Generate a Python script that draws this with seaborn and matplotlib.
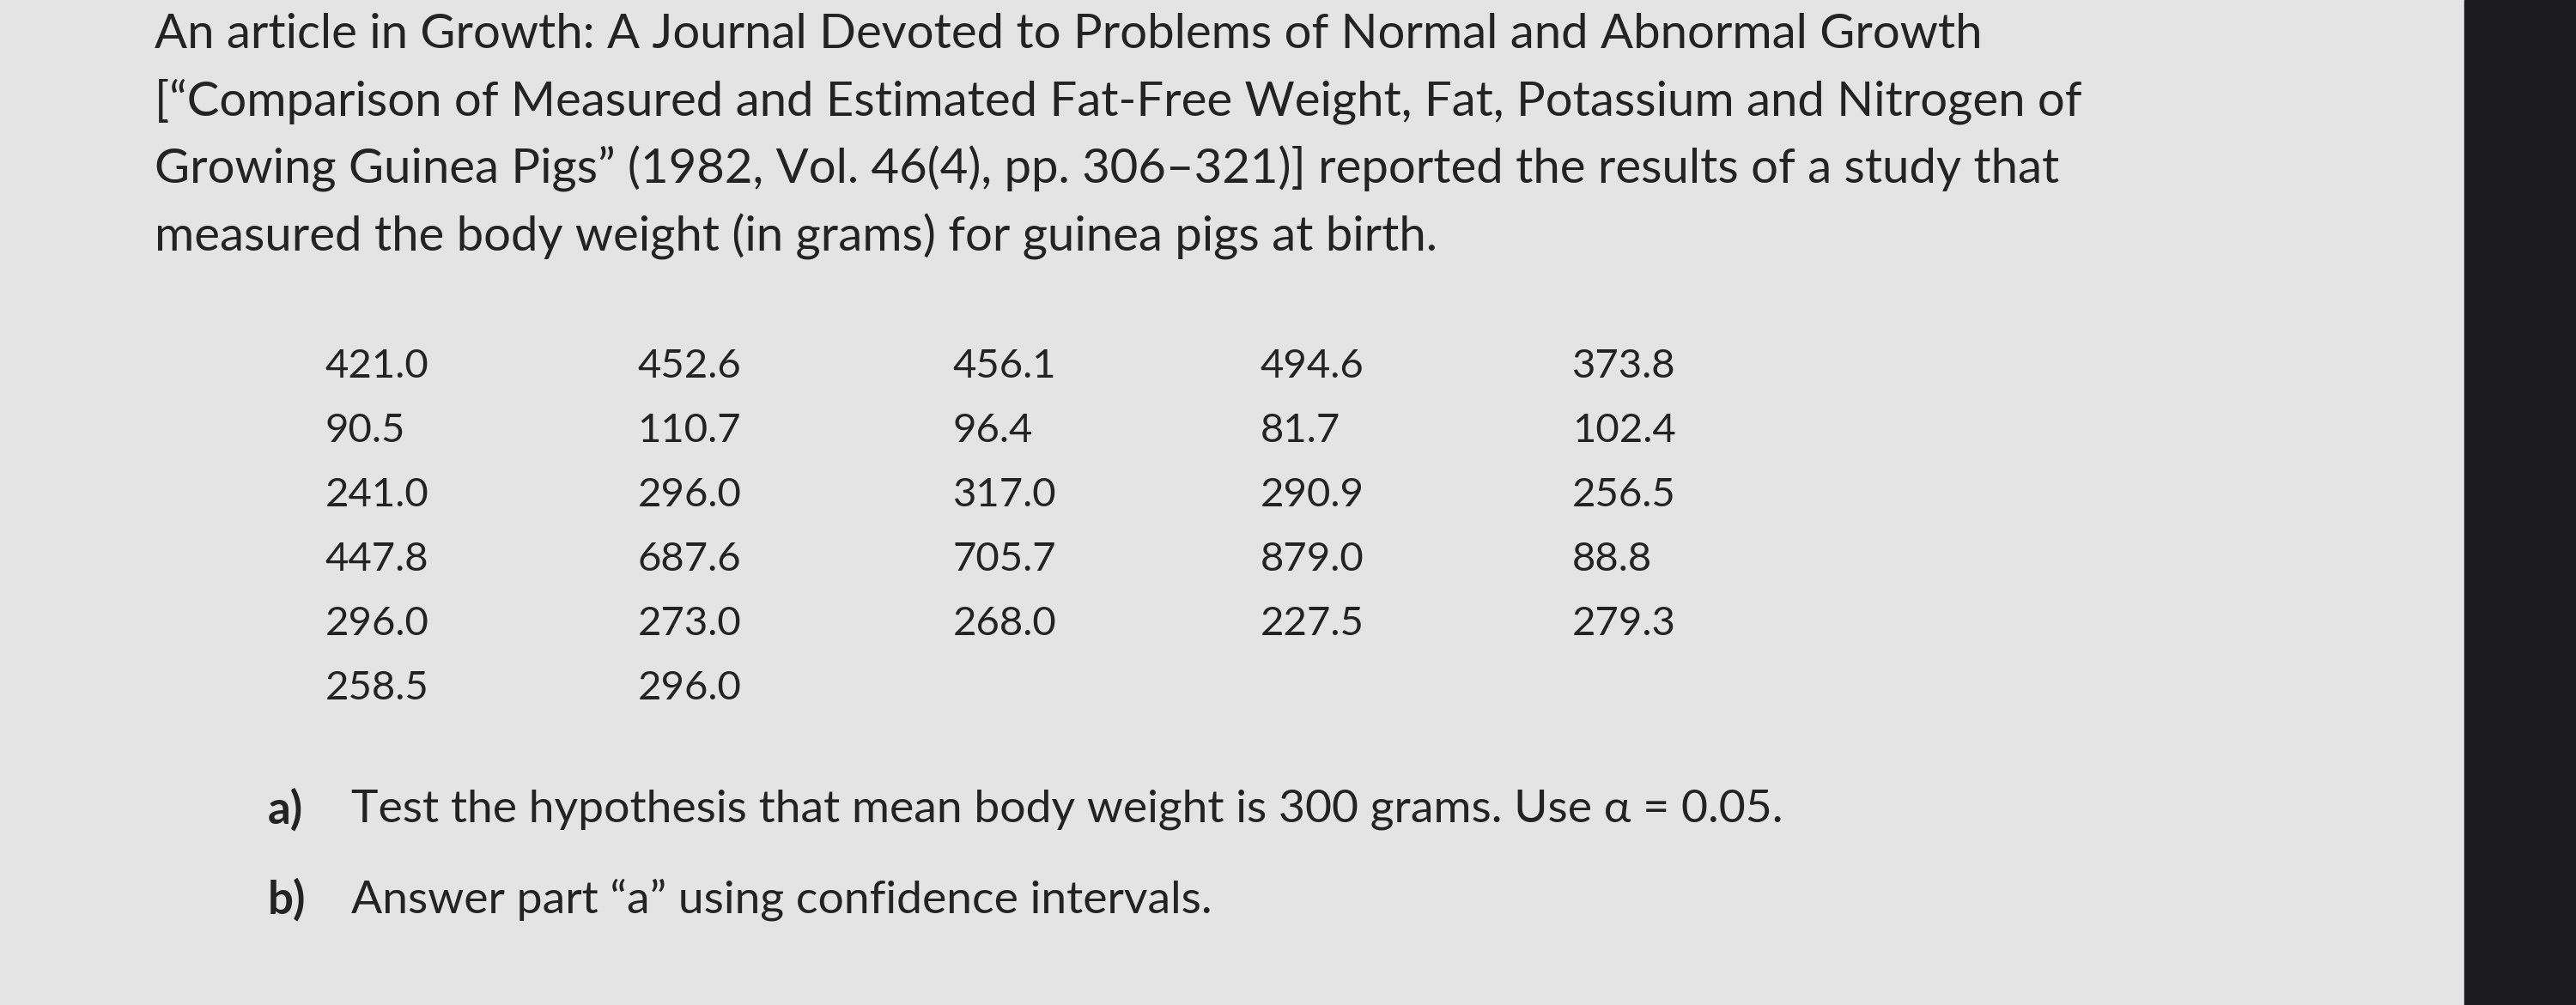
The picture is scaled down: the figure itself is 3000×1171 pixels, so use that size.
import matplotlib
matplotlib.use("Agg")
import matplotlib.pyplot as plt
import seaborn as sns

sns.set_theme(style="white")
plt.rcParams["font.family"] = ["Lato", "DejaVu Sans"]

header_lines = [
    "An article in Growth: A Journal Devoted to Problems of Normal and Abnormal Growth",
    "[\u201cComparison of Measured and Estimated Fat-Free Weight, Fat, Potassium and Nitrogen of",
    "Growing Guinea Pigs\u201d (1982, Vol. 46(4), pp. 306\u2013321)] reported the results of a study that",
    "measured the body weight (in grams) for guinea pigs at birth.",
]

col1 = ["421.0", "90.5", "241.0", "447.8", "296.0", "258.5"]
col2 = ["452.6", "110.7", "296.0", "687.6", "273.0", "296.0"]
col3 = ["456.1", "96.4", "317.0", "705.7", "268.0"]
col4 = ["494.6", "81.7", "290.9", "879.0", "227.5"]
col5 = ["373.8", "102.4", "256.5", "88.8", "279.3"]
columns = [col1, col2, col3, col4, col5]

question_labels = ["a)", "b)"]
question_texts = [
    "Test the hypothesis that mean body weight is 300 grams. Use \u03b1 = 0.05.",
    "Answer part \u201ca\u201d using confidence intervals.",
]

W, H = 1568, 612
col_x = [198, 388, 580, 767, 957]
text_color = "#232323"

fig = plt.figure(figsize=(30, 11.71), dpi=100)
fig.patch.set_facecolor("#e4e4e4")
ax = fig.add_axes([0, 0, 1, 1])
ax.set_xlim(0, W)
ax.set_ylim(H, 0)
ax.axis("off")
ax.set_facecolor("#e4e4e4")

# monitor bezel on the right
ax.axvspan(1500, W, color="#1c1c1e", zorder=0)

for i, line in enumerate(header_lines):
    ax.text(94, 21 + i * 41, line, fontsize=40.5, color=text_color, va="center", ha="left")

for cx, vals in zip(col_x, columns):
    for j, v in enumerate(vals):
        ax.text(cx, 223 + j * 39.2, v, fontsize=34, color=text_color, va="center", ha="left")

for k, (lab, txt) in enumerate(zip(question_labels, question_texts)):
    y = 493 + k * 55
    ax.text(163, y, lab, fontsize=38, color=text_color, va="center", ha="left", fontweight="bold")
    ax.text(214, y, txt, fontsize=38.5, color=text_color, va="center", ha="left")

fig.savefig("out.png", dpi=100, facecolor=fig.get_facecolor())
